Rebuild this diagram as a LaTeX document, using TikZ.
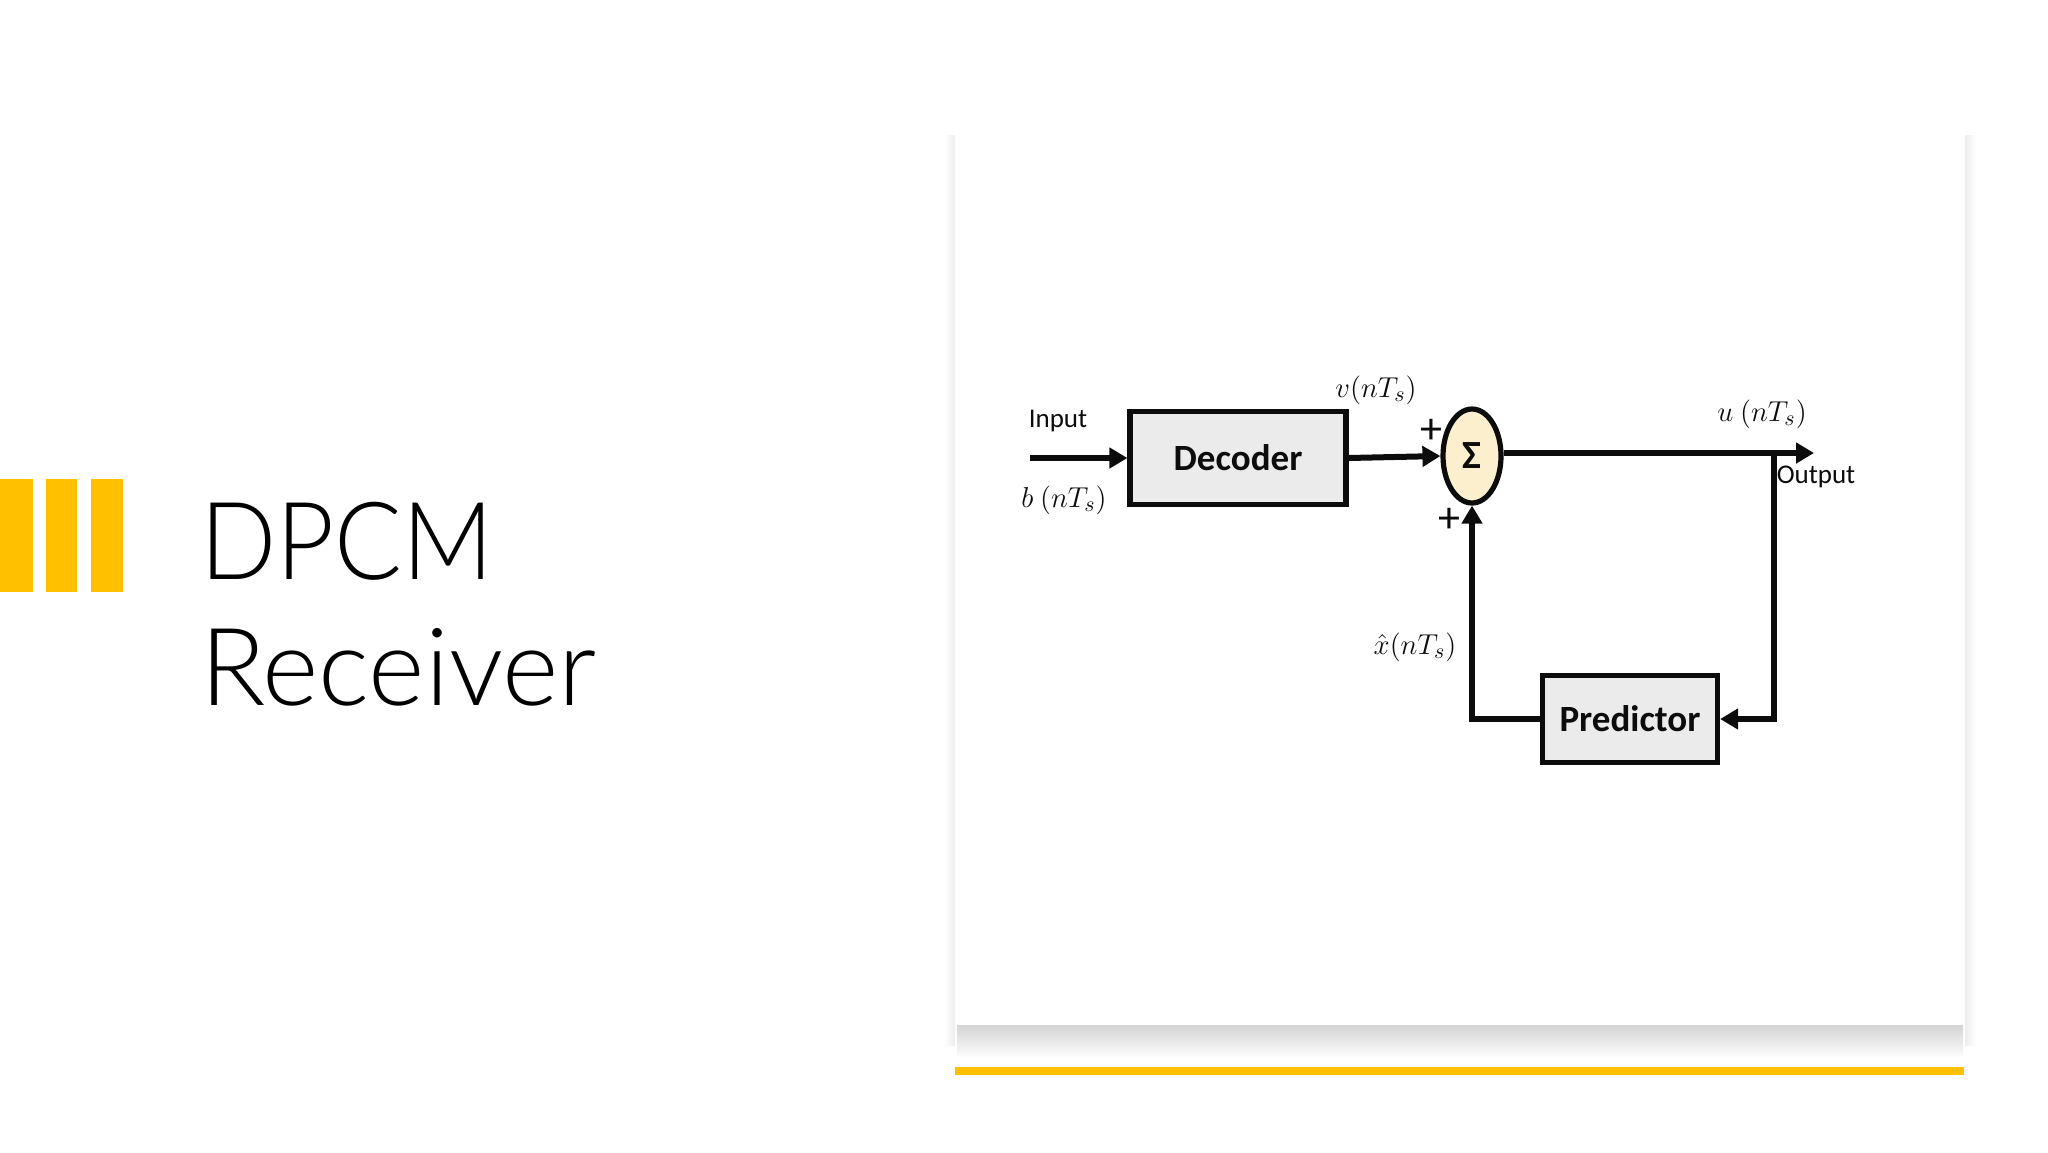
\documentclass[tikz,border=0pt]{standalone}
\usepackage{fontspec}
\setmainfont{Carlito}
\newfontfamily\titlefont{Lato Light}
\usetikzlibrary{arrows.meta,shapes.geometric}
\definecolor{accent}{RGB}{255,192,0}
\definecolor{boxfill}{RGB}{235,235,235}
\definecolor{sumfill}{RGB}{251,239,205}
\definecolor{ink}{RGB}{12,12,12}
\begin{document}
\begin{tikzpicture}[x=0.5pt,y=-0.5pt,
  blk/.style={draw=ink,line width=2.6pt,fill=boxfill,inner sep=0pt,
    font=\fontsize{18.5}{21}\selectfont\bfseries,text=ink},
  sumnode/.style={ellipse,draw=ink,line width=2.6pt,fill=sumfill,inner sep=0pt,
    minimum width=29pt,minimum height=47pt,font=\fontsize{20}{22}\selectfont,text=ink},
  conn/.style={draw=ink,line width=3pt,-{Triangle[length=9pt,width=10pt]}},
  lbl/.style={font=\fontsize{13.5}{15}\selectfont,text=ink,inner sep=0pt},
  mlbl/.style={font=\fontsize{15}{17}\selectfont,text=ink,inner sep=0pt},
  pm/.style={font=\fontsize{22}{24}\selectfont,text=ink,inner sep=0pt},
  title/.style={font=\titlefont\fontsize{54}{60}\selectfont,text=black,inner sep=0pt,anchor=base west}]
\useasboundingbox (0,0) rectangle (2048,1152);
\fill[white] (0,0) rectangle (2048,1152);
% accent bars
\fill[accent] (0,479) rectangle (33,592);
\fill[accent] (46,479) rectangle (77,592);
\fill[accent] (91,479) rectangle (123,592);
% title
\node[title] (t1) at (200,579) {\scalebox{0.93}[1]{DPCM}};
\node[title] (t2) at (200,705) {Receiver};
% card with shadow
\shade[top color=black!17,bottom color=white] (957,1025) rectangle (1963,1058);
\shade[left color=white,right color=black!7] (944,135) rectangle (955,1045);
\shade[left color=black!7,right color=white] (1965,135) rectangle (1976,1045);
\fill[white] (955,128) rectangle (1965,1025);
\fill[accent] (955,1067) rectangle (1964,1075);
% blocks
\node[blk,minimum width=108pt,minimum height=46.5pt] (dec) at (1238,458) {Decoder};
\node[sumnode] (sum) at (1472,456) {\textbf{Σ}};
\node[blk,minimum width=87.5pt,minimum height=43.5pt] (pred) at (1630,719) {Predictor};
\coordinate (in) at (1030,458);
\coordinate (out) at (1814,453);
\coordinate (tap) at (1774,453);
% connectors
\draw[conn] (in) -- (dec.west);
\draw[conn] (dec.east) -- (sum.west);
\draw[conn] (sum.east |- out) -- (out);
\draw[conn] (tap) |- (pred.east);
\draw[conn] (pred.west) -| (sum.south);
% labels
\node[lbl] (linput) at (1058,421) {Input};
\node[mlbl] (lb) at (1064,500) {$b\ (nT_s)$};
\node[mlbl] (lv) at (1376,390) {$v(nT_s)$};
\node[mlbl] (lu) at (1762,414) {$u\ (nT_s)$};
\node[lbl] (lout) at (1816,477) {Output};
\node[mlbl] (lx) at (1415,647) {$\hat{x}(nT_s)$};
\node[pm] (p1) at (1431,431) {+};
\node[pm] (p2) at (1449,520) {+};
\end{tikzpicture}
\end{document}
